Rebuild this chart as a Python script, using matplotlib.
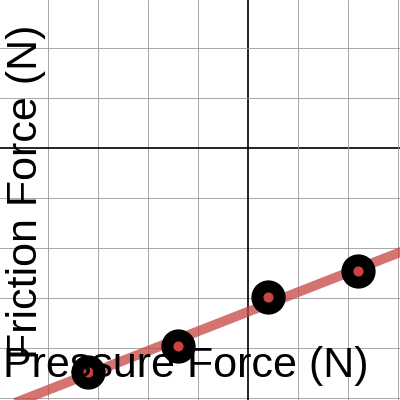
import matplotlib
matplotlib.use("Agg")
import matplotlib.pyplot as plt
import numpy as np

pressure = [1.76, 3.56, 5.36, 7.16]
friction = [0.56, 1.08, 2.06, 2.58]

fig = plt.figure(figsize=(4, 4), dpi=100)
ax = fig.add_axes([0, 0, 1, 1])
ax.set_xlim(0, 8)
ax.set_ylim(0, 8)
for v in np.arange(0, 8.01, 1):
    lw = 1.2 if v == 5 else 0.6
    c = "black" if v == 5 else "#999999"
    ax.axvline(v - 0.04, color=c, lw=lw, zorder=0)
    ax.axhline(v + 0.04, color=c, lw=lw, zorder=0)
m, b = np.polyfit(pressure, friction, 1)
xs = np.array([0, 8])
ax.plot(xs, m * xs + b, color="#c74440", alpha=0.75, lw=7, zorder=2)
ax.scatter(pressure, friction, s=560, color="black", zorder=3)
ax.scatter(pressure, friction, s=40, color="#c74440", zorder=4)
ax.set_xticks([]); ax.set_yticks([])
for s in ax.spines.values():
    s.set_visible(False)
fig.text(0.465, 0.085, "Pressure Force (N)", fontsize=31, ha="center", va="center",
         family="Liberation Sans")
fig.text(0.065, 0.52, "Friction Force (N)", fontsize=31, ha="center", va="center",
         rotation=90, family="Liberation Sans")
fig.savefig("out.png", dpi=100)
